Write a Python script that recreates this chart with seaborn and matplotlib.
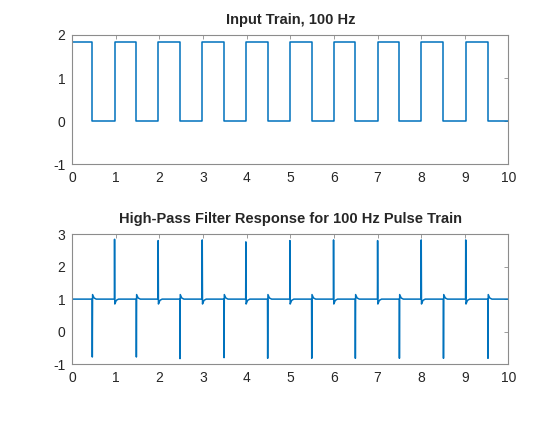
import numpy as np
import pandas as pd
import matplotlib
matplotlib.use("Agg")
import matplotlib.pyplot as plt
import seaborn as sns

# edge times (s)
rise_times = [0.97, 1.97, 2.98, 3.98, 4.99, 5.99, 7.00, 8.00, 9.02]
fall_times = [0.46, 1.47, 2.47, 3.48, 4.48, 5.49, 6.49, 7.50, 8.51, 9.53]
t_end = 10.0

# input train levels
high_level = 1.83
low_level = 0.0

# high-pass response
baseline = 1.0
pos_peaks = [2.84, 2.80, 2.82, 2.76, 2.80, 2.82, 2.80, 2.82, 2.82]
neg_peaks = [-0.78, -0.78, -0.83, -0.80, -0.82, -0.82, -0.82, -0.82, -0.82, -0.82]
after_fall = 1.14   # small overshoot after the falling-edge spike
after_rise = 0.85   # small undershoot after the rising-edge spike

blue = "#0072BD"


def input_train():
    t, y = [0.0], [high_level]
    edges = sorted([(tf, "f") for tf in fall_times] + [(tr, "r") for tr in rise_times])
    level = high_level
    for te, kind in edges:
        t.append(te)
        y.append(level)
        level = low_level if kind == "f" else high_level
        t.append(te)
        y.append(level)
    t.append(t_end)
    y.append(level)
    return pd.DataFrame({"t": t, "y": y})


def hp_response():
    t, y = [0.0], [baseline]
    events = sorted([(tf, p, after_fall) for tf, p in zip(fall_times, neg_peaks)] +
                    [(tr, p, after_rise) for tr, p in zip(rise_times, pos_peaks)])
    for te, peak, rebound in events:
        t += [te - 0.004, te, te + 0.006, te + 0.04, te + 0.09]
        y += [baseline, peak, rebound, baseline + (rebound - baseline) * 0.25, baseline]
    t.append(t_end)
    y.append(baseline)
    return pd.DataFrame({"t": t, "y": y})


sns.set_style("white")
plt.rcParams["font.family"] = ["Liberation Sans", "DejaVu Sans"]
plt.rcParams["axes.unicode_minus"] = False

fig = plt.figure(figsize=(5.6, 4.21), dpi=100)
ax1 = fig.add_axes([0.129, 0.610, 0.779, 0.307])
ax2 = fig.add_axes([0.129, 0.135, 0.779, 0.309])

sns.lineplot(data=input_train(), x="t", y="y", ax=ax1, estimator=None, sort=False,
             color=blue, linewidth=1.1)
sns.lineplot(data=hp_response(), x="t", y="y", ax=ax2, estimator=None, sort=False,
             color=blue, linewidth=1.1)

ax1.set_title("Input Train, 100 Hz", fontsize=10.5, fontweight="bold", pad=8)
ax2.set_title("High-Pass Filter Response for 100 Hz Pulse Train", fontsize=10.5,
              fontweight="bold", pad=8)

ax1.set_ylim(-1, 2)
ax1.set_yticks([-1, 0, 1, 2])
ax2.set_ylim(-1, 3)
ax2.set_yticks([-1, 0, 1, 2, 3])

for ax in (ax1, ax2):
    ax.set_xlim(0, 10)
    ax.set_xticks(range(0, 11))
    ax.set_xlabel("")
    ax.set_ylabel("")
    for sp in ax.spines.values():
        sp.set_color("#8c8c8c")
        sp.set_linewidth(0.8)
        sp.set_visible(True)
    ax.tick_params(direction="in", length=3, width=0.6, color="#8c8c8c",
                   top=True, right=True, labelsize=10, labelcolor="#262626", pad=5)

fig.savefig("out.png", dpi=100)
